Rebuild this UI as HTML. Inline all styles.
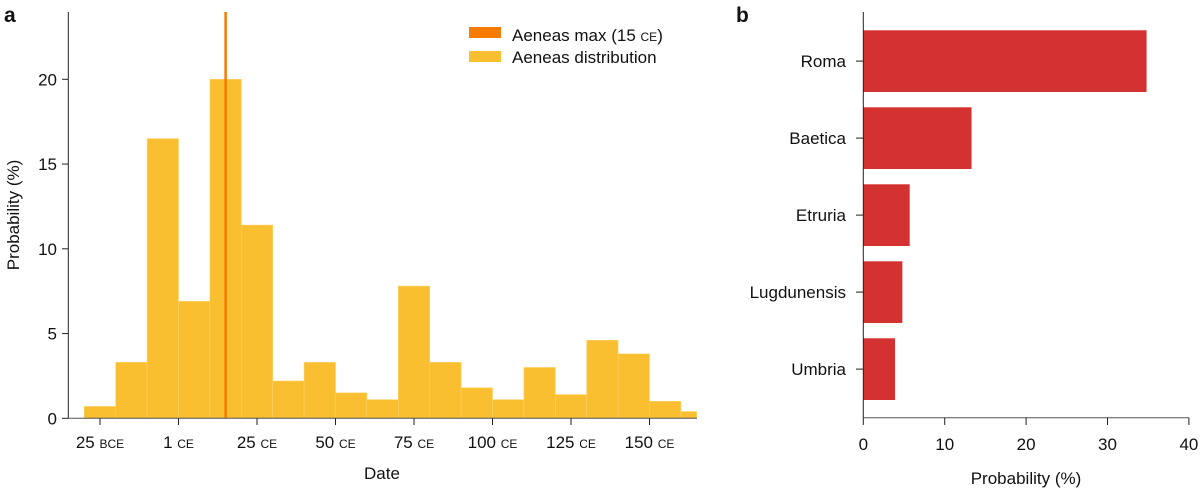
<!DOCTYPE html>
<html><head><meta charset="utf-8"><style>
body{margin:0;background:#fff}
svg text{font-family:"Liberation Sans",Arial,sans-serif;fill:#111}
</style></head><body>
<svg width="1200" height="488" xmlns="http://www.w3.org/2000/svg">
<g id="left"></g>
<g id="right"></g>
</svg>
<script>
const NS="http://www.w3.org/2000/svg";
const binStarts=[-30,-20,-10,0,10,20,30,40,50,60,70,80,90,100,110,120,130,140,150,160];
const binEnds=[-20,-10,0,10,20,30,40,50,60,70,80,90,100,110,120,130,140,150,160,165];
const binValues=[0.7,3.3,16.5,6.9,20.0,11.4,2.2,3.3,1.5,1.1,7.8,3.3,1.8,1.1,3.0,1.4,4.6,3.8,1.0,0.4];
const xTickVals=[-25,0,25,50,75,100,125,150];
const xTickNums=["25","1","25","50","75","100","125","150"];
const xTickEras=["BCE","CE","CE","CE","CE","CE","CE","CE"];
const yTicks=[0,5,10,15,20];
const maxYear=[15];
const regions=["Roma","Baetica","Etruria","Lugdunensis","Umbria"];
const regionValues=[34.8,13.3,5.7,4.8,3.9];
const pTicks=[0,10,20,30,40];

function mk(p,tag,a,txt){const e=document.createElementNS(NS,tag);for(const k in a)e.setAttribute(k,a[k]);if(txt!=null)e.textContent=txt;p.appendChild(e);return e;}
const L=document.getElementById('left'),R=document.getElementById('right');
const sx=v=>178.5+(v)*3.14, sy=v=>418.3-v*16.95;
// bars
binValues.forEach((v,i)=>{const r=mk(L,'rect',{x:sx(binStarts[i]),y:sy(v),width:sx(binEnds[i])-sx(binStarts[i]),height:418.3-sy(v),fill:'#f9bf31',stroke:'#fbd36a','stroke-width':0.6});

});
// max line
const ml=mk(L,'line',{x1:sx(maxYear[0]),x2:sx(maxYear[0]),y1:12,y2:418,stroke:'#f57c00','stroke-width':2.5});


// axes
mk(L,'line',{x1:68.3,x2:68.3,y1:12,y2:418.3,stroke:'#222','stroke-width':1});
mk(L,'line',{x1:68.3,x2:697,y1:418.3,y2:418.3,stroke:'#555','stroke-width':1});
yTicks.forEach(t=>{mk(L,'line',{x1:62,x2:68.3,y1:sy(t),y2:sy(t),stroke:'#222'});
const tx=mk(L,'text',{x:57,y:sy(t)+6,'text-anchor':'end','font-size':17},t);

});
xTickVals.forEach((t,i)=>{mk(L,'line',{x1:sx(t),x2:sx(t),y1:418.3,y2:425,stroke:'#222'});
const tx=mk(L,'text',{x:sx(t),y:448,'text-anchor':'middle','font-size':17});
mk(tx,'tspan',{},xTickNums[i]+' ');mk(tx,'tspan',{'font-size':12},xTickEras[i]);

});
mk(L,'text',{x:382,y:479,'text-anchor':'middle','font-size':17,},'Date');
mk(L,'text',{x:19,y:215,'text-anchor':'middle','font-size':17,transform:'rotate(-90 19 215)',},'Probability (%)');
mk(L,'text',{x:4,y:22,'font-size':21,'font-weight':'bold',},'a');
// legend
const lg=mk(L,'g',{});
mk(lg,'rect',{x:469,y:27,width:32,height:11,fill:'#f57c00',});
const lt=mk(lg,'text',{x:512,y:41,'font-size':17,});
mk(lt,'tspan',{},'Aeneas max (15 ');mk(lt,'tspan',{'font-size':12},'CE');mk(lt,'tspan',{},')');
mk(lg,'rect',{x:469,y:51,width:32,height:11,fill:'#f9bf31',});
mk(lg,'text',{x:512,y:63,'font-size':17,},'Aeneas distribution');

// right panel
const px=v=>863.3+v*8.14;
const bandY=i=>30.3+i*77;
regions.forEach((r,i)=>{const b=mk(R,'rect',{x:863.3,y:bandY(i),width:px(regionValues[i])-863.3,height:61.7,fill:'#d43131'});


const cy=bandY(i)+30.8;
mk(R,'line',{x1:856,x2:863.3,y1:cy,y2:cy,stroke:'#222'});
const t=mk(R,'text',{x:846,y:cy+6,'text-anchor':'end','font-size':17},r);

});
mk(R,'line',{x1:863.3,x2:863.3,y1:12,y2:418,stroke:'#222'});
mk(R,'line',{x1:863.3,x2:1189,y1:417.7,y2:417.7,stroke:'#555'});
pTicks.forEach(t=>{mk(R,'line',{x1:px(t),x2:px(t),y1:417.7,y2:425,stroke:'#222'});
const tx=mk(R,'text',{x:px(t),y:450,'text-anchor':'middle','font-size':17},t);

});
mk(R,'text',{x:1026,y:484,'text-anchor':'middle','font-size':17,},'Probability (%)');
mk(R,'text',{x:736,y:22,'font-size':21,'font-weight':'bold',},'b');
</script>
</body></html>
